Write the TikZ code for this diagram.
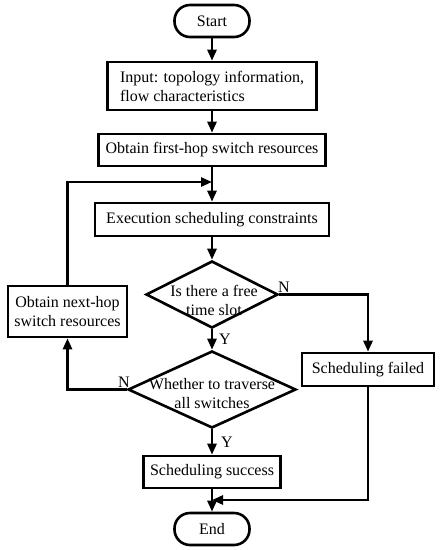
\documentclass[tikz,border=0pt]{standalone}
\usepackage{fontspec}
\setmainfont{Liberation Serif}
\usetikzlibrary{arrows.meta,shapes.geometric}
\begin{document}
\begin{tikzpicture}[x=1pt, y=-1pt, line width=2.6pt,
  every node/.style={font=\fontsize{16}{19}\selectfont, inner sep=0pt, align=center},
  box/.style={draw, rectangle},
  term/.style={draw, rounded corners=15.5pt, minimum width=75pt, minimum height=32pt},
  dia/.style={draw, diamond},
  arr/.style={-{Triangle[length=11pt,width=9pt]}}]
  \useasboundingbox (0,0) rectangle (442,550);
  % main column
  \node[term] (start) at (212,21) {Start};
  \node[box, minimum width=209pt, minimum height=48pt, align=left] (input) at (212,86) {Input: topology information,\\flow characteristics};
  \node[box, minimum width=227pt, minimum height=32pt] (first) at (212,150) {Obtain first-hop switch resources};
  \node[box, minimum width=234pt, minimum height=33pt] (exec) at (212,219.5) {Execution scheduling constraints};
  \node[dia, minimum width=132pt, minimum height=67pt] (slot) at (212,294.5) {};
  \node (slottext) at (214,300) {Is there a free\\time slot};
  \node[dia, minimum width=168pt, minimum height=77pt] (trav) at (212,389.5) {};
  \node (travtext) at (212,394) {Whether to traverse\\all switches};
  \node[box, minimum width=137pt, minimum height=32pt] (succ) at (212,472) {Scheduling success};
  \node[term] (end) at (212,529) {End};
  % side boxes
  \node[box, minimum width=119pt, minimum height=51pt] (next) at (67.5,311.5) {Obtain next-hop\\switch resources};
  \node[box, minimum width=132pt, minimum height=33pt] (fail) at (368,369.5) {Scheduling failed};
  % helper points
  \coordinate (loop) at (212,182);
  \coordinate (merge) at (212,500);
  % connectors
  \draw[arr] (start) -- (input);
  \draw[arr] (input) -- (first);
  \draw[arr] (first) -- (exec);
  \draw[arr] (exec) -- (slot);
  \draw[arr] (slot) -- (trav);
  \draw[arr] (trav) -- (succ);
  \draw[arr] (succ) -- (end);
  \draw[arr] (next.north) |- (loop);
  \draw[arr] (slot.east) -| (fail.north);
  \draw[arr] (trav.west) -| (next.south);
  \draw[arr] (fail.south) |- (merge);
  % branch labels
  \node (n1) at (284,287) {N};
  \node (n2) at (124,382) {N};
  \node (y1) at (225,339) {Y};
  \node (y2) at (227,442) {Y};
\end{tikzpicture}
\end{document}
